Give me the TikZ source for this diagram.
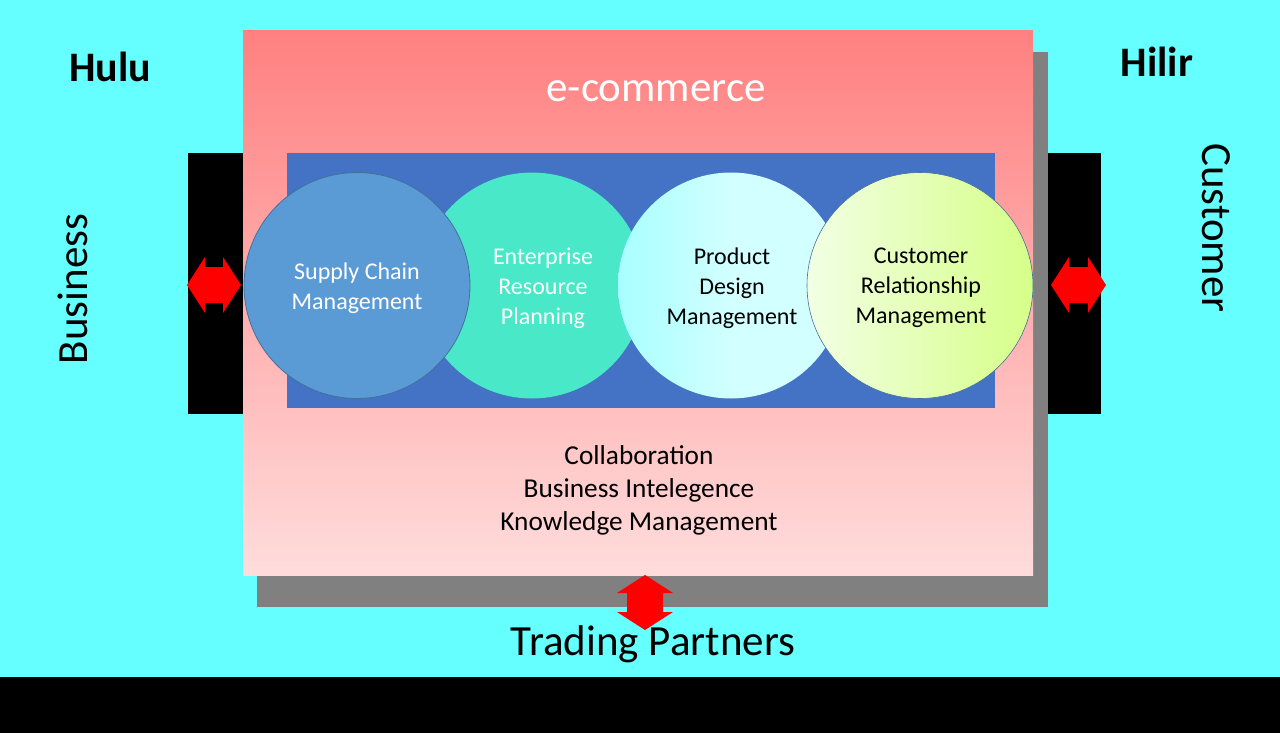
\documentclass[tikz,border=0pt]{standalone}
\usepackage{fontspec}
\setmainfont{Carlito}
\definecolor{bgcyan}{HTML}{66FFFF}
\definecolor{pinktop}{HTML}{FF8080}
\definecolor{pinkbot}{HTML}{FFDCDC}
\definecolor{shadowgray}{HTML}{808080}
\definecolor{innerblue}{HTML}{4472C4}
\definecolor{scmblue}{HTML}{5B9BD5}
\definecolor{scmedge}{HTML}{41719C}
\definecolor{erpgreen}{HTML}{48E8C8}
\definecolor{pdleft}{HTML}{A8FFFF}
\definecolor{pdright}{HTML}{D2FFFF}
\definecolor{crmleft}{HTML}{F2FFE4}
\definecolor{crmright}{HTML}{D6FF88}
\definecolor{arrowred}{HTML}{FF0000}
\tikzset{
  bubble/.style={circle, minimum size=226pt, inner sep=0pt},
  bubbletext/.style={align=center, font=\fontsize{24}{30}\selectfont},
  bigtext/.style={font=\fontsize{43}{50}\selectfont},
  boldtext/.style={font=\fontsize{42}{48}\selectfont\bfseries},
  redarrow/.style={fill=arrowred}
}
\begin{document}
\begin{tikzpicture}[x=1pt,y=-1pt]
\useasboundingbox (0,0) rectangle (1280,733);
% background
\fill[bgcyan] (0,0) rectangle (1280,677);
\fill[black] (0,677) rectangle (1280,733);
% side black bars
\fill[black] (188,153) rectangle (250,414);
\fill[black] (1040,153) rectangle (1101,414);
% shadow
\fill[shadowgray] (257,52) rectangle (1048,607);
% main pink panel
\shade[top color=pinktop, bottom color=pinkbot] (243,31) rectangle (1033,575);
\node[bigtext, text=white] (ecom) at (656,91) {e-commerce};
% inner blue panel
\fill[innerblue] (287,153) rectangle (995,408);
% circles
\node[bubble, fill=erpgreen] (erp) at (532,285.5) {};
\node[bubbletext, text=white] (erpt) at (543,288) {Enterprise\\Resource\\Planning};
\node[bubble, fill=scmblue, draw=scmedge, line width=0.8pt] (scm) at (357,285.5) {};
\node[bubbletext, text=white] (scmt) at (357,288) {Supply Chain\\Management};
\node[bubble, left color=pdleft, right color=pdright, middle color=pdright] (pd) at (731,285.5) {};
\node[bubbletext, text=black] (pdt) at (732,288) {Product\\Design\\Management};
\node[bubble, left color=crmleft, right color=crmright, draw=scmedge, line width=0.6pt] (crm) at (920,285.5) {};
\node[bubbletext, text=black] (crmt) at (921,288) {Customer\\Relationship\\Management};
% bottom text
\node[align=center, font=\fontsize{27.3}{33}\selectfont] (collab) at (639,490) {Collaboration\\Business Intelegence\\Knowledge Management};
% arrows
\fill[redarrow] (187,285) -- (205,257) -- (205,267) -- (223,267) -- (223,257) -- (241,285) -- (223,313) -- (223,303) -- (205,303) -- (205,313) -- cycle;
\fill[redarrow] (1051,285) -- (1069,257) -- (1069,267) -- (1088,267) -- (1088,257) -- (1106,285) -- (1088,313) -- (1088,303) -- (1069,303) -- (1069,313) -- cycle;
\fill[redarrow] (645,575) -- (673,593) -- (663,593) -- (663,612) -- (673,612) -- (645,630) -- (617,612) -- (627,612) -- (627,593) -- (617,593) -- cycle;
% outside labels
\node[bigtext] (trading) at (653,644) {Trading Partners};
\node[boldtext] (hulu) at (110,67) {Hulu};
\node[boldtext] (hilir) at (1157,62) {Hilir};
\node[bigtext, rotate=90] (business) at (73,289) {Business};
\node[bigtext, rotate=-90] (customer) at (1216,228) {Customer};
\end{tikzpicture}
\end{document}
